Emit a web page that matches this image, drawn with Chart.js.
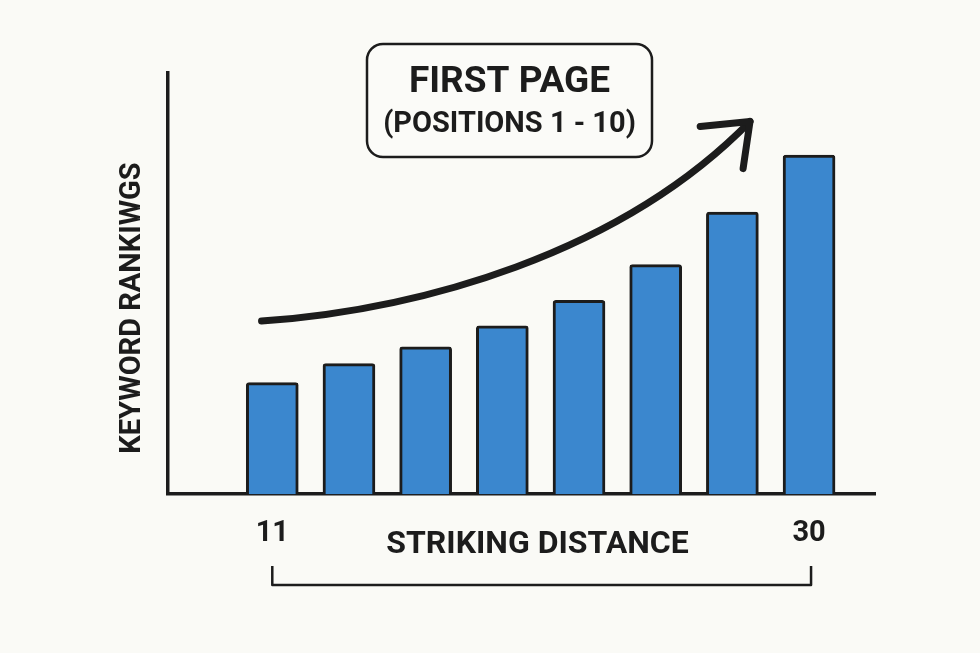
<!DOCTYPE html>
<html>
<head>
<meta charset="utf-8">
<script src="https://cdn.jsdelivr.net/npm/chart.js@4.4.0/dist/chart.umd.min.js"></script>
<style>
    html, body { margin: 0; padding: 0; background: #fafaf6; }
    #wrap { width: 980px; height: 653px; }
</style>
</head>
<body>
<div id="wrap"><canvas id="chart"></canvas></div>
<script>
// bar slots from left (pos 30 side) to right
const positions = [1, 2, 3, 4, 5, 6, 7, 8];
const rankings = [26.5, 31, 35, 40, 46, 54.5, 67, 80.5];
const tickValues = [1, 8];
const tickLabels = ['11', '30'];

const INK = '#1c1c1c';
const FONT = 'Roboto, "DejaVu Sans", sans-serif';

// the trend arrow, in data units (x slot, y value)
const arrowPath = [[0.86, 41.1], [2.92, 43.8], [5.53, 56.9], [7.23, 88.5]];
const arrowHead = [[6.58, 87.3], [7.14, 77.3]];

const annotations = {
    id: 'annotations',
    afterDraw(chart) {
        const { ctx, scales: { x, y } } = chart;
        const px = p => [x.getPixelForValue(p[0]), y.getPixelForValue(p[1])];
        ctx.save();
        ctx.strokeStyle = INK;
        ctx.fillStyle = INK;
        ctx.lineCap = 'round';
        ctx.lineJoin = 'round';

        // arrow
        const [p0, p1, p2, p3] = arrowPath.map(px);
        ctx.lineWidth = 7;
        ctx.beginPath();
        ctx.moveTo(p0[0], p0[1]);
        ctx.bezierCurveTo(p1[0], p1[1], p2[0], p2[1], p3[0], p3[1]);
        ctx.stroke();
        const [h1, h2] = arrowHead.map(px);
        ctx.beginPath();
        ctx.moveTo(h1[0], h1[1]);
        ctx.lineTo(p3[0], p3[1]);
        ctx.lineTo(h2[0], h2[1]);
        ctx.stroke();

        // first page box
        ctx.lineWidth = 2.5;
        ctx.fillStyle = '#fbfbf8';
        ctx.beginPath();
        ctx.roundRect(367, 44, 285, 113, 16);
        ctx.fill();
        ctx.stroke();
        ctx.fillStyle = INK;
        ctx.textAlign = 'center';
        ctx.textBaseline = 'middle';
        ctx.font = 'bold 37px ' + FONT;
        ctx.fillText('FIRST PAGE', 509.5, 83);
        ctx.font = 'bold 29px ' + FONT;
        ctx.fillText('(POSITIONS 1 - 10)', 509.5, 125);

        // x title
        ctx.font = 'bold 32px ' + FONT;
        ctx.fillText('STRIKING DISTANCE', 537.5, 545);

        // y title
        ctx.save();
        ctx.translate(133, 308);
        ctx.rotate(-Math.PI / 2);
        ctx.font = 'bold 29px ' + FONT;
        ctx.fillText('KEYWORD RANKIWGS', 0, 0);
        ctx.restore();

        // bracket under the striking distance range
        const bl = x.getPixelForValue(tickValues[0]);
        const br = x.getPixelForValue(tickValues[1]) + 2;
        ctx.lineWidth = 2.5;
        ctx.lineCap = 'butt';
        ctx.beginPath();
        ctx.moveTo(bl, 566);
        ctx.lineTo(bl, 585);
        ctx.lineTo(br, 585);
        ctx.lineTo(br, 566);
        ctx.stroke();
        ctx.restore();
    }
};

new Chart(document.getElementById('chart'), {
    type: 'bar',
    data: {
        datasets: [{
            data: positions.map((p, i) => ({ x: p, y: rankings[i] })),
            backgroundColor: '#3b87ce',
            borderColor: INK,
            borderWidth: 3,
            borderRadius: 3,
            barThickness: 52
        }]
    },
    options: {
        responsive: true,
        maintainAspectRatio: false,
        animation: false,
        layout: { padding: { left: 160, right: 105, top: 73, bottom: 88 } },
        plugins: { legend: { display: false }, tooltip: { enabled: false } },
        scales: {
            x: {
                type: 'linear',
                min: -0.36,
                max: 8.86,
                offset: false,
                grid: { display: false },
                border: { color: INK, width: 3.5 },
                afterBuildTicks: scale => { scale.ticks = tickValues.map(v => ({ value: v })); },
                ticks: {
                    padding: 14,
                    color: INK,
                    font: { family: FONT, size: 29, weight: 'bold' },
                    maxRotation: 0,
                    callback: v => tickLabels[tickValues.indexOf(v)]
                }
            },
            y: {
                min: 0,
                max: 100,
                grid: { display: false },
                border: { color: INK, width: 3.5 },
                ticks: { display: false }
            }
        }
    },
    plugins: [annotations]
});
</script>
</body>
</html>
